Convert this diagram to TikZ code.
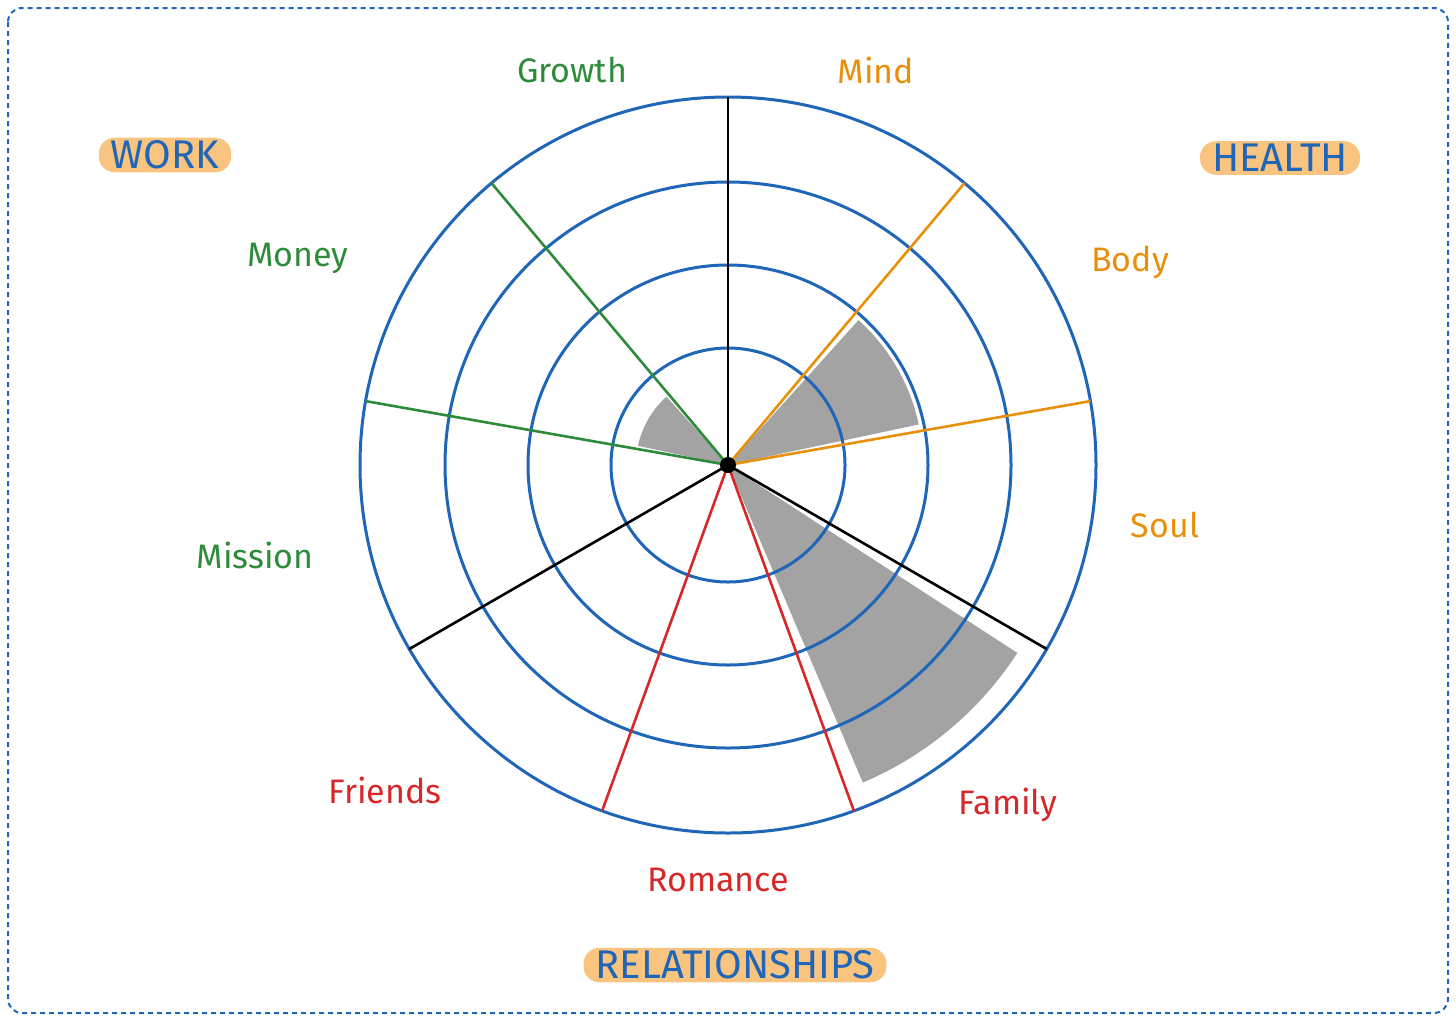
\documentclass[tikz,border=0pt]{standalone}
\usepackage{fontspec}
\setmainfont{Fira Sans}
\definecolor{bl}{HTML}{1F66B8}
\definecolor{gr}{HTML}{2E8B3A}
\definecolor{orr}{HTML}{E8900C}
\definecolor{rd}{HTML}{D62828}
\definecolor{hl}{HTML}{F9C47F}
\definecolor{sh}{HTML}{A3A3A3}
\begin{document}
\begin{tikzpicture}[x=1pt,y=-1pt,
  lab/.style={font=\fontsize{34}{40}\selectfont},
  cat/.style={font=\fontsize{40}{46}\selectfont, text=bl, fill=hl, rounded corners=16pt, inner xsep=12pt, inner ysep=3pt},
  ring/.style={draw=bl, line width=3pt},
  spoke/.style={line width=2.6pt}]
\useasboundingbox (0,0) rectangle (1456,1021);
\draw[bl, dash pattern=on 5pt off 4pt, line width=2pt, rounded corners=14pt] (8,8) rectangle (1448,1013);
\begin{scope}[shift={(728,465)}, yscale=-1]
  \fill[sh] (0,0) -- (132:92) arc[start angle=132,end angle=168,radius=92] -- cycle;
  \fill[sh] (0,0) -- (12:195) arc[start angle=12,end angle=48,radius=195] -- cycle;
  \fill[sh] (0,0) -- (293:345) arc[start angle=293,end angle=327,radius=345] -- cycle;
  \foreach \r in {117,200,283,368} \draw[ring] (0,0) circle[radius=\r];
  \coordinate (o) at (0,0);
  \foreach \a/\col [count=\i] in {90/black,130/gr,170/gr,210/black,250/rd,290/rd,330/black,10/orr,50/orr}
    {\coordinate (e\i) at (\a:368); \draw[spoke, \col] (o) -- (e\i);}
  \node[circle, fill=black, inner sep=0pt, minimum size=16pt] (c) at (o) {};
\end{scope}
\node[lab, text=gr] (growth) at (572,70) {Growth};
\node[lab, text=orr] (mind) at (876,70) {Mind};
\node[lab, text=orr] (body) at (1130,262) {Body};
\node[lab, text=orr] (soul) at (1165,525) {Soul};
\node[lab, text=rd] (family) at (1008,805) {Family};
\node[lab, text=rd] (romance) at (718,880) {Romance};
\node[lab, text=rd] (friends) at (385,790) {Friends};
\node[lab, text=gr] (mission) at (255,555) {Mission};
\node[lab, text=gr] (money) at (298,258) {Money};
\node[cat] (work) at (165,155) {WORK};
\node[cat] (health) at (1280,158) {HEALTH};
\node[cat] (rel) at (735,965) {RELATIONSHIPS};
\end{tikzpicture}
\end{document}
